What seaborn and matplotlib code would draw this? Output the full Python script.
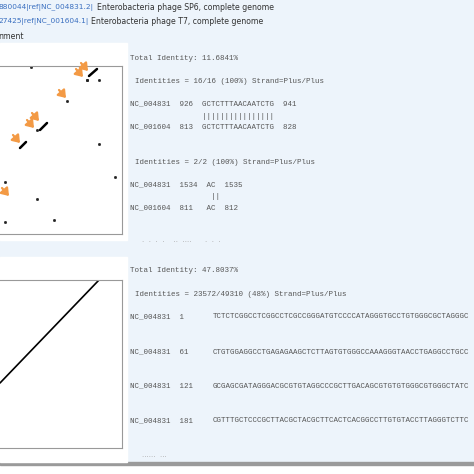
"""BLAST two-sequence dot plot screenshot."""
import numpy as np
import pandas as pd
import seaborn as sns
import matplotlib.pyplot as plt

# dot plot 1 (SP6 vs T7, fragmentary hits), units: plot coordinates
dots1_x = [31, 87, 99, 99, 115, 5, 5, 54, 67, 37, 37, 87]
dots1_y = [67, 80, 80, 144, 177, 182, 222, 220, 101, 199, 130, 80]
segs1 = [((89, 97), (76, 69)), ((40, 47), (130, 123)), ((20, 26), (148, 142))]
arrows_x = [88, 83, 66, 39, 34, 20, 9]
arrows_y = [71, 77, 98, 121, 128, 143, 196]
# dot plot 2 (self alignment diagonal)
line2_x = [0, 99]
line2_y = [383, 280]

header = [("880044|ref|NC_004831.2|", "Enterobacteria phage SP6, complete genome", 7, 97),
          ("27425|ref|NC_001604.1|", "Enterobacteria phage T7, complete genome", 21, 91)]
block1 = [("Total Identity: 11.6841%", 130, 58),
          ("Identities = 16/16 (100%) Strand=Plus/Plus", 135, 81),
          ("NC_004831  926  GCTCTTTAACAATCTG  941", 130, 104),
          ("                ||||||||||||||||", 130, 116),
          ("NC_001604  813  GCTCTTTAACAATCTG  828", 130, 127),
          ("Identities = 2/2 (100%) Strand=Plus/Plus", 135, 162),
          ("NC_004831  1534  AC  1535", 130, 185),
          ("                  ||", 130, 197),
          ("NC_001604  811   AC  812", 130, 208)]
block2 = [("Total Identity: 47.8037%", 130, 271),
          ("Identities = 23572/49310 (48%) Strand=Plus/Plus", 135, 294)]
seq_rows = [("NC_004831  1", "TCTCTCGGCCTCGGCCTCGCCGGGATGTCCCCATAGGGTGCCTGTGGGCGCTAGGGC", 317),
            ("NC_004831  61", "CTGTGGAGGCCTGAGAGAAGCTCTTAGTGTGGGCCAAAGGGTAACCTGAGGCCTGCC", 352),
            ("NC_004831  121", "GCGAGCGATAGGGACGCGTGTAGGCCCGCTTGACAGCGTGTGTGGGCGTGGGCTATC", 386),
            ("NC_004831  181", "CGTTTGCTCCCGCTTACGCTACGCTTCACTCACGGCCTTGTGTACCTTAGGGTCTTC", 421)]

sns.set_theme(style="white")
fig = plt.figure(figsize=(4.74, 4.74), dpi=100)
bg = fig.add_axes([0, 0, 1, 1])
bg.set_xlim(0, 474)
bg.set_ylim(474, 0)
bg.axis("off")
bg.add_patch(plt.Rectangle((0, 0), 474, 462, color="#edf4fb", zorder=0))
bg.add_patch(plt.Rectangle((0, 462), 474, 3, color="#9a9a9a", zorder=0))
bg.add_patch(plt.Rectangle((0, 43), 127, 197, color="white", zorder=1))
bg.add_patch(plt.Rectangle((0, 257), 127, 205, color="white", zorder=1))

mono = "Liberation Mono"
tc = "#555555"
for link, name, y, x in header:
    bg.text(-2, y, link, fontsize=5.3, color="#3a6fc0", va="center", zorder=3)
    bg.text(x, y, name, fontsize=5.6, color="#333333", va="center", zorder=3)
bg.text(-2, 36, "nment", fontsize=5.6, color="#333333", va="center", zorder=3)
for s, x, y in block1 + block2:
    bg.text(x, y, s, fontsize=5.4, family=mono, color=tc, va="center", zorder=3)
for lab, seq, y in seq_rows:
    bg.text(130, y, lab, fontsize=5.4, family=mono, color=tc, va="center", zorder=3)
    bg.text(213, y, seq, fontsize=5.4, family=mono, color=tc, va="center", zorder=3)
bg.text(142, 240, ".  .  .  .    ..  ....      .  .  .", fontsize=5, color="#aaaaaa", va="center", zorder=3)
bg.text(142, 455, "......  ...", fontsize=5, color="#aaaaaa", va="center", zorder=3)


def panel(top, bottom):
    ax = fig.add_axes([-5 / 474, 1 - bottom / 474, 127 / 474, (bottom - top) / 474], zorder=2)
    ax.set_xlim(-5, 122)
    ax.set_ylim(bottom, top)
    ax.set_xticks([])
    ax.set_yticks([])
    for sp in ax.spines.values():
        sp.set_color("#999999")
        sp.set_linewidth(0.8)
    return ax


ax1 = panel(66, 234)
sns.scatterplot(x=dots1_x, y=dots1_y, ax=ax1, s=4, color="#222222", edgecolor=None)
for xs, ys in segs1:
    sns.lineplot(x=list(xs), y=list(ys), ax=ax1, color="black", lw=1.8, sort=False)
for x, y in zip(arrows_x, arrows_y):
    ax1.annotate("", xy=(x, y), xytext=(x - 7, y - 8), annotation_clip=False,
                 arrowprops=dict(arrowstyle="-|>,head_length=0.35,head_width=0.25",
                                 color="#f39a45", lw=1.6, shrinkA=0, shrinkB=0))

ax2 = panel(280, 448)
sns.lineplot(x=line2_x, y=line2_y, ax=ax2, color="black", lw=1.2, sort=False)

fig.savefig("out.png", dpi=100)
